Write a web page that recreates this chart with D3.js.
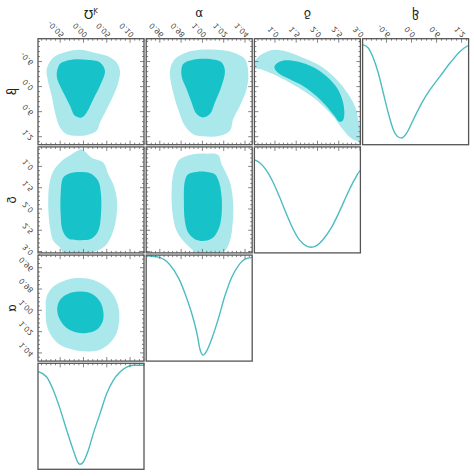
<!DOCTYPE html>
<html><head><meta charset="utf-8">
<script src="https://cdn.jsdelivr.net/npm/d3@7"></script>
<style>body{margin:0;background:#fff}</style>
</head><body><svg id="c" width="474" height="476"></svg>
<script>
// ---- parameters, axes ----
const paramNames = ["Ω", "α", "δ", "β"];
const paramSubs  = ["k", "", "", ""];
const omkDomain   = [-0.0966, 0.131];
const alphaDomain = [0.9477, 1.0472];
const deltaDomain = [0.53, 3.02];
const betaDomain  = [-1.16, 1.38];
const omkTicks   = [-0.05, 0.00, 0.05, 0.10];
const alphaTicks = [0.96, 0.98, 1.00, 1.02, 1.04];
const deltaTicks = [1.0, 1.5, 2.0, 2.5, 3.0];
const betaTicks  = [-0.6, 0.0, 0.6, 1.2];
const omkTickLabels   = ["-0.05", "0.00", "0.05", "0.10"];
const alphaTickLabels = ["0.96", "0.98", "1.00", "1.02", "1.04"];
const deltaTickLabels = ["1.0", "1.5", "2.0", "2.5", "3.0"];
const betaTickLabels  = ["-0.6", "0.0", "0.6", "1.2"];

// ---- 1D marginals [value, relative probability] ----
const omk1D = [[-0.0966,0.082],[-0.0779,0.136],[-0.0637,0.267],[-0.0494,0.449],[-0.035,0.663],[-0.0208,0.861],[-0.0101,0.987],[-0.0064,1.0],[0.0006,0.977],[0.0114,0.861],[0.0221,0.696],[0.0365,0.498],[0.0509,0.300],[0.065,0.168],[0.0794,0.086],[0.0938,0.037],[0.1079,0.020],[0.131,0.020]];
const alpha1D = [[0.9477,0.007],[0.9599,0.023],[0.9693,0.089],[0.9786,0.238],[0.9849,0.403],[0.9911,0.601],[0.9958,0.799],[0.9981,0.930],[1.0012,0.990],[1.0044,0.950],[1.0091,0.832],[1.0153,0.634],[1.0216,0.403],[1.0279,0.221],[1.0341,0.106],[1.0404,0.040],[1.0472,0.023]];
const delta1D = [[0.53,0.129],[0.648,0.155],[0.805,0.228],[0.960,0.343],[1.117,0.492],[1.275,0.657],[1.430,0.805],[1.587,0.921],[1.744,0.980],[1.862,0.993],[1.979,0.980],[2.134,0.921],[2.331,0.805],[2.526,0.641],[2.721,0.459],[2.878,0.327],[2.995,0.245],[3.02,0.235]];
const beta1D = [[-1.16,0.059],[-1.024,0.092],[-0.904,0.191],[-0.784,0.340],[-0.664,0.538],[-0.544,0.736],[-0.424,0.901],[-0.304,0.973],[-0.225,0.983],[-0.105,0.934],[0.055,0.802],[0.256,0.637],[0.456,0.505],[0.695,0.373],[0.935,0.241],[1.175,0.126],[1.336,0.076],[1.38,0.069]];

// ---- 2D credible regions [x, y] (95% outer, 68% inner) ----
const alphaOmk95 = [[-0.0779,0.9866],[-0.0637,0.9772],[-0.0386,0.9715],[-0.0135,0.9693],[0.015,0.9702],[0.0436,0.9756],[0.065,0.985],[0.0758,0.996],[0.0779,1.0085],[0.0723,1.0209],[0.0579,1.0303],[0.0365,1.0366],[0.0079,1.0382],[-0.0208,1.0366],[-0.0494,1.0319],[-0.0672,1.0241],[-0.0779,1.0131],[-0.08,0.9991]];
const alphaOmk68 = [[-0.053,0.9928],[-0.0423,0.9866],[-0.0242,0.9828],[-0.0028,0.9819],[0.0187,0.984],[0.0365,0.9913],[0.0436,1.0007],[0.0423,1.01],[0.0294,1.0178],[0.0079,1.0209],[-0.0135,1.0204],[-0.035,1.0162],[-0.0494,1.0085],[-0.0551,1.0007]];
const deltaOmk95 = [[-0.0028,0.585],[0.0187,0.782],[0.0436,0.899],[0.0543,1.171],[0.065,1.406],[0.0723,1.721],[0.0723,2.110],[0.065,2.502],[0.0509,2.815],[0.0294,2.972],[0.0079,3.019],[-0.0242,3.035],[-0.0423,3.012],[-0.0494,2.894],[-0.0637,2.737],[-0.0708,2.425],[-0.0745,1.955],[-0.0723,1.406],[-0.0637,1.094],[-0.0457,0.859],[-0.0242,0.702],[-0.0101,0.608]];
const deltaOmk68 = [[-0.0423,1.251],[-0.0279,1.148],[-0.0064,1.117],[0.015,1.148],[0.0328,1.329],[0.0386,1.641],[0.0386,2.110],[0.0328,2.502],[0.0187,2.683],[-0.0064,2.721],[-0.0315,2.683],[-0.0436,2.502],[-0.0479,2.110],[-0.0479,1.641]];
const deltaAlpha95 = [[0.9793,0.819],[0.9918,0.702],[1.0044,0.688],[1.0153,0.718],[1.0185,0.937],[1.0232,1.171],[1.0269,1.406],[1.0294,1.876],[1.0288,2.345],[1.0263,2.737],[1.0216,2.972],[1.0169,3.012],[1.0044,3.035],[0.995,3.012],[0.9887,2.894],[0.9824,2.737],[0.9762,2.502],[0.9725,2.110],[0.9715,1.563],[0.973,1.171],[0.9762,0.937]];
const deltaAlpha68 = [[0.984,1.329],[0.9871,1.171],[0.995,1.117],[1.0044,1.117],[1.0122,1.171],[1.0162,1.369],[1.0185,1.721],[1.0185,2.110],[1.0162,2.425],[1.0106,2.660],[1.0028,2.737],[0.9934,2.697],[0.9871,2.542],[0.984,2.268],[0.9831,1.798]];
const betaOmk95 = [[-0.0779,-0.432],[-0.0637,-0.712],[-0.035,-0.847],[-0.0064,-0.894],[0.0221,-0.832],[0.0509,-0.751],[0.0723,-0.592],[0.0794,-0.391],[0.0758,-0.113],[0.065,0.209],[0.0509,0.528],[0.0365,0.847],[0.0294,1.048],[0.0079,1.151],[-0.0135,1.168],[-0.035,1.127],[-0.0494,0.966],[-0.0601,0.607],[-0.0672,0.209],[-0.0745,-0.113]];
const betaOmk68 = [[-0.0564,-0.271],[-0.0494,-0.552],[-0.0242,-0.655],[0.0079,-0.655],[0.0365,-0.592],[0.0472,-0.391],[0.0365,-0.031],[0.0221,0.288],[0.0079,0.607],[-0.0028,0.727],[-0.0172,0.688],[-0.0279,0.448],[-0.0386,0.209],[-0.0494,-0.031]];
const betaAlpha95 = [[0.970,-0.391],[0.9746,-0.671],[0.9856,-0.832],[0.9981,-0.894],[1.0138,-0.894],[1.0294,-0.832],[1.0404,-0.671],[1.0435,-0.353],[1.042,0.048],[1.0357,0.448],[1.0294,0.767],[1.0263,1.048],[1.0169,1.168],[1.0044,1.182],[0.9918,1.127],[0.984,0.928],[0.9777,0.528],[0.973,0.127]];
const betaAlpha68 = [[0.9809,-0.271],[0.9824,-0.552],[0.9918,-0.655],[1.0075,-0.671],[1.0185,-0.592],[1.0216,-0.391],[1.0185,-0.031],[1.0122,0.367],[1.0075,0.647],[1.0012,0.727],[0.995,0.647],[0.9903,0.367],[0.9856,0.048]];
const betaDelta95 = [[0.45,-0.63],[0.531,-0.631],[0.648,-0.751],[0.883,-0.871],[1.040,-0.894],[1.352,-0.832],[1.744,-0.671],[2.134,-0.472],[2.526,-0.113],[2.761,0.209],[2.918,0.528],[3.012,0.928],[3.1,1.0],[3.1,1.3],[2.838,1.247],[2.603,1.007],[2.369,0.688],[2.056,0.367],[1.744,0.127],[1.352,-0.113],[0.960,-0.312],[0.648,-0.432],[0.531,-0.448],[0.45,-0.45]];
const betaDelta68 = [[1.040,-0.552],[1.195,-0.631],[1.430,-0.631],[1.744,-0.552],[2.056,-0.391],[2.291,-0.192],[2.486,0.048],[2.603,0.329],[2.643,0.647],[2.603,0.808],[2.526,0.832],[2.408,0.688],[2.214,0.448],[1.979,0.209],[1.664,-0.031],[1.352,-0.192],[1.077,-0.353],[1.0,-0.472]];

// ---- assemble ----
const domains = [omkDomain, alphaDomain, deltaDomain, betaDomain];
const ticks = [omkTicks, alphaTicks, deltaTicks, betaTicks];
const tickLabels = [omkTickLabels, alphaTickLabels, deltaTickLabels, betaTickLabels];
const marg = [omk1D, alpha1D, delta1D, beta1D];
const contours = {
  "1,0": [alphaOmk95, alphaOmk68], "2,0": [deltaOmk95, deltaOmk68], "2,1": [deltaAlpha95, deltaAlpha68],
  "3,0": [betaOmk95, betaOmk68], "3,1": [betaAlpha95, betaAlpha68], "3,2": [betaDelta95, betaDelta68]
};

const W = 474, H = 476, X0 = 38, SIZE = 106, STEP = 108.2, Y0 = 6.7;
const frameCol = "#555", tickCol = "#666", labCol = "#444";
const col95 = "#abe8eb", col68 = "#17c3c8", lineCol = "#4dbcc1";
const FONT = "DejaVu Sans, sans-serif";

const svg = d3.select("#c");
const defs = svg.append("defs");
// whole corner plot is mirrored vertically, as in the reference
const root = svg.append("g").attr("transform", `translate(0,${H}) scale(1,-1)`);

const xs = c => { const x0 = X0 + c * STEP; return d3.scaleLinear().domain(domains[c]).range([x0, x0 + SIZE]); };
const ys = r => { const y0 = Y0 + r * STEP; return d3.scaleLinear().domain(domains[r]).range([y0 + SIZE, y0]); };
function minors(i) {
  const t = ticks[i], m = (t[1] - t[0]) / 5, d = domains[i];
  return d3.range(Math.ceil((d[0] - t[0]) / m - 1e-9), Math.floor((d[1] - t[0]) / m + 1e-9) + 1)
    .map(k => t[0] + k * m).filter(v => t.every(tt => Math.abs(tt - v) > m / 10));
}
function styleAxis(sel) { sel.select(".domain").remove(); sel.selectAll("line").attr("stroke", tickCol).attr("stroke-width", 0.8); }

for (let r = 0; r < 4; r++) {
  for (let c = 0; c <= r; c++) {
    const x0 = X0 + c * STEP, y0 = Y0 + r * STEP;
    const x = xs(c);
    const g = root.append("g");
    const cid = `clip${r}${c}`;
    defs.append("clipPath").attr("id", cid).append("rect").attr("x", x0).attr("y", y0).attr("width", SIZE).attr("height", SIZE);
    const body = g.append("g").attr("clip-path", `url(#${cid})`);
    if (r === c) {
      const py = d3.scaleLinear().domain([0, 1]).range([y0 + SIZE, y0 + 5]);
      body.append("path").datum(marg[c])
        .attr("d", d3.line().x(d => x(d[0])).y(d => py(d[1])).curve(d3.curveMonotoneX))
        .attr("fill", "none").attr("stroke", lineCol).attr("stroke-width", 1.4);
    } else {
      const y = ys(r);
      const ln = d3.line().x(d => x(d[0])).y(d => y(d[1])).curve(d3.curveCatmullRomClosed.alpha(0.5));
      const [c95, c68] = contours[`${r},${c}`];
      body.append("path").datum(c95).attr("d", ln).attr("fill", col95);
      body.append("path").datum(c68).attr("d", ln).attr("fill", col68);
      [[d3.axisLeft, x0], [d3.axisRight, x0 + SIZE]].forEach(([ax, tx]) => {
        g.append("g").attr("transform", `translate(${tx},0)`).call(ax(y).tickValues(ticks[r]).tickSize(-4).tickFormat("")).call(styleAxis);
        g.append("g").attr("transform", `translate(${tx},0)`).call(ax(y).tickValues(minors(r)).tickSize(-2).tickFormat("")).call(styleAxis);
      });
      g.append("g").attr("transform", `translate(0,${y0})`).call(d3.axisTop(x).tickValues(ticks[c]).tickSize(-4).tickFormat("")).call(styleAxis);
      g.append("g").attr("transform", `translate(0,${y0})`).call(d3.axisTop(x).tickValues(minors(c)).tickSize(-2).tickFormat("")).call(styleAxis);
      if (c === 0) {
        ticks[r].forEach((t, i) => {
          const ax = x0 - 6, ay = y(t) - 2;
          g.append("text").attr("x", ax).attr("y", ay).attr("dy", "0.35em")
            .attr("transform", `rotate(-45,${ax},${ay})`).attr("text-anchor", "end")
            .attr("font-family", FONT).attr("font-size", 7.5).attr("fill", labCol).text(tickLabels[r][i]);
        });
      }
    }
    g.append("g").attr("transform", `translate(0,${y0 + SIZE})`).call(d3.axisBottom(x).tickValues(ticks[c]).tickSize(-4).tickFormat("")).call(styleAxis);
    g.append("g").attr("transform", `translate(0,${y0 + SIZE})`).call(d3.axisBottom(x).tickValues(minors(c)).tickSize(-2).tickFormat("")).call(styleAxis);
    if (r === 3) {
      ticks[c].forEach((t, i) => {
        const ax = x(t) + 3, ay = y0 + SIZE + 2.5;
        g.append("text").attr("x", ax).attr("y", ay).attr("dy", "0.35em")
          .attr("transform", `rotate(-45,${ax},${ay})`).attr("text-anchor", "end")
          .attr("font-family", FONT).attr("font-size", 7.5).attr("fill", labCol).text(tickLabels[c][i]);
      });
    }
    g.append("rect").attr("x", x0).attr("y", y0).attr("width", SIZE).attr("height", SIZE)
      .attr("fill", "none").attr("stroke", frameCol).attr("stroke-width", 1.3);
  }
}

paramNames.forEach((p, i) => {
  const t = root.append("text").attr("x", X0 + i * STEP + SIZE / 2).attr("y", 462)
    .attr("text-anchor", "middle").attr("dominant-baseline", "central")
    .attr("font-family", FONT).attr("font-size", 12).attr("fill", "#222");
  t.append("tspan").text(p);
  if (paramSubs[i]) t.append("tspan").attr("font-size", 8).attr("dy", 3).text(paramSubs[i]);
  if (i > 0) {
    const cy = Y0 + i * STEP + SIZE / 2;
    root.append("text").attr("x", 12).attr("y", cy).attr("transform", `rotate(-90,12,${cy})`)
      .attr("text-anchor", "middle").attr("dominant-baseline", "central")
      .attr("font-family", FONT).attr("font-size", 12).attr("fill", "#222").text(p);
  }
});
</script>
</body></html>
